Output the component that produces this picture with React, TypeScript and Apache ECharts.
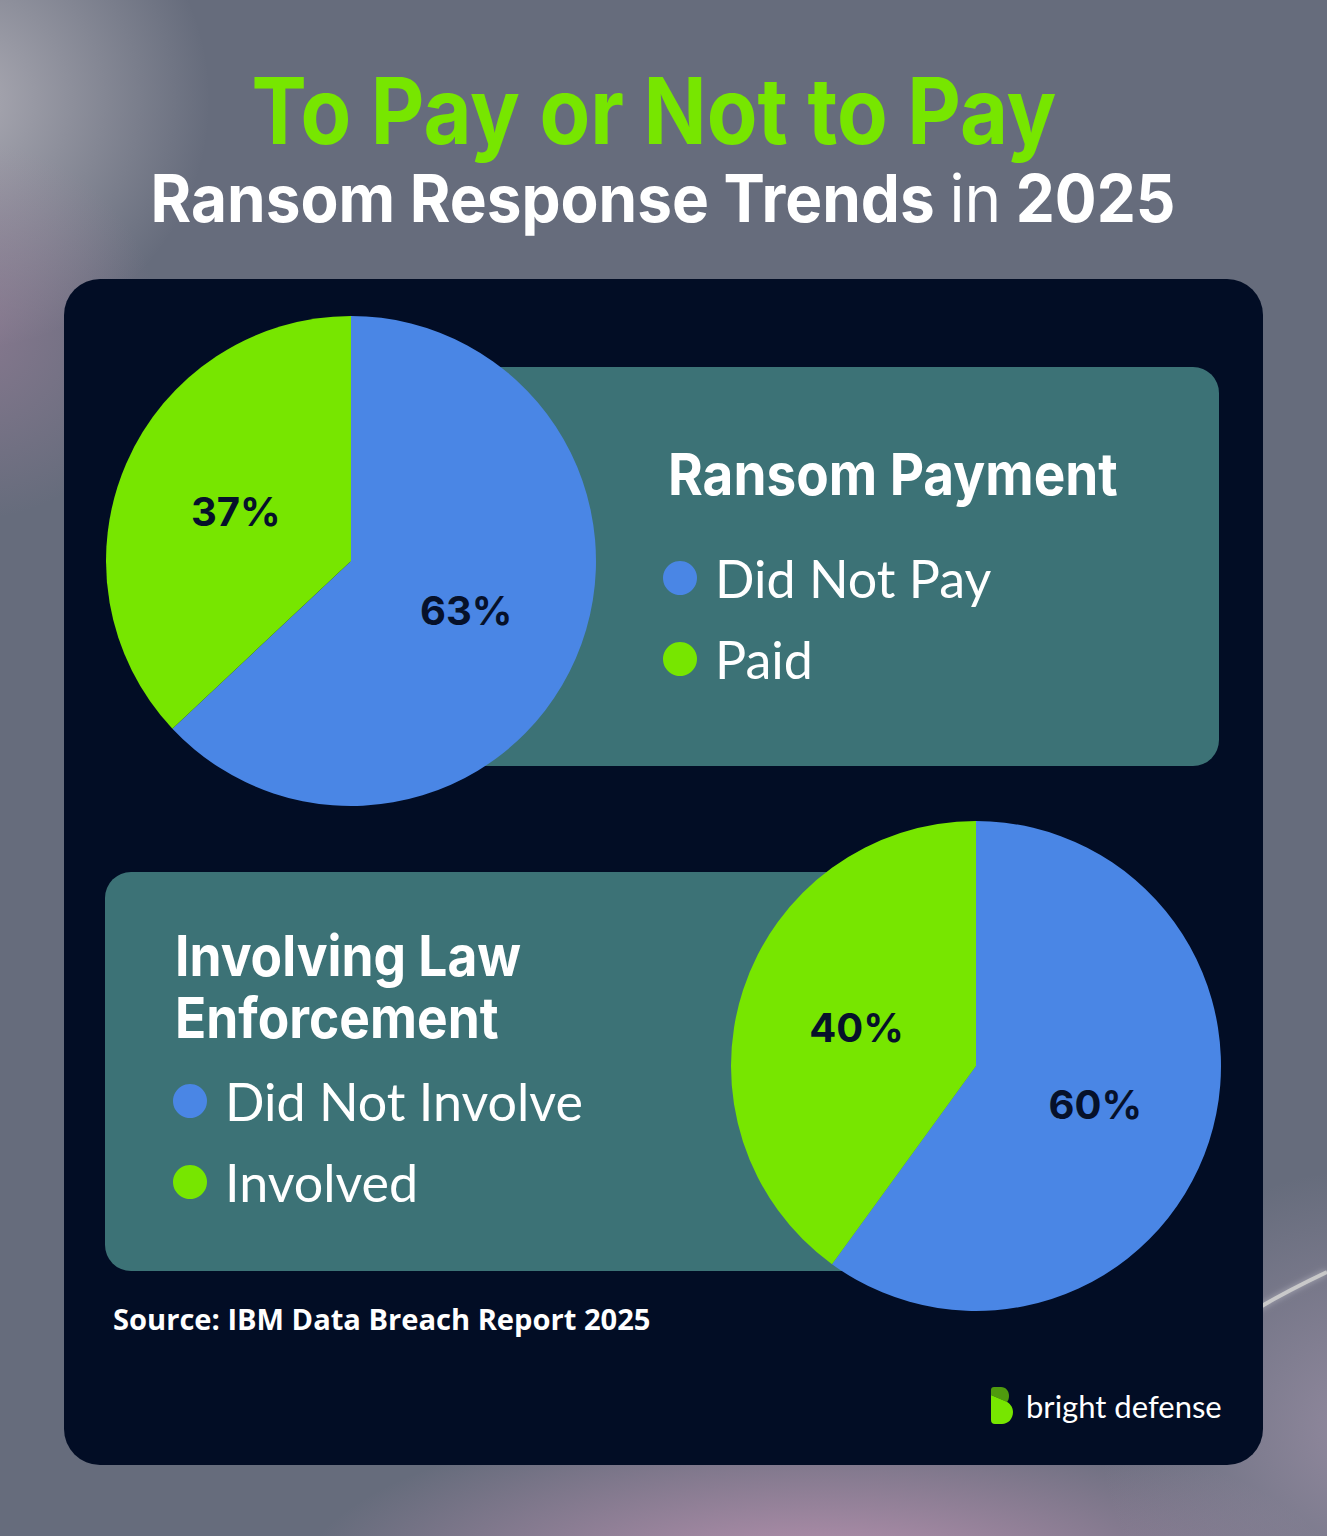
import React, { useEffect, useRef } from "react";
import * as echarts from "echarts";

const paymentCategories = ["Did Not Pay", "Paid"];
const paymentValues = [63, 37];
const lawCategories = ["Did Not Involve", "Involved"];
const lawValues = [60, 40];
const sliceColors = ["#4a86e5", "#77e600"];

const titleLine1 = "To Pay or Not to Pay";
const titleLine2Bold1 = "Ransom Response Trends";
const titleLine2Light = "in";
const titleLine2Bold2 = "2025";
const paymentHeading = "Ransom Payment";
const lawHeading = ["Involving Law", "Enforcement"];
const sourceText = "Source: IBM Data Breach Report 2025";
const brandText = "bright defense";

const BOLD = "Inter, 'Noto Sans', sans-serif";
const REG = "Lato, 'Noto Sans', sans-serif";
const SRC = "'Open Sans', 'Noto Sans', sans-serif";

echarts.graphic.registerShape(
  "logoTop",
  echarts.graphic.extendPath(
    "M0 3 Q0 0 3 0 H10 C15 0 18 4 18 9 C18 12 17 14 16 15 L0 8 Z",
    {}
  )
);
echarts.graphic.registerShape(
  "logoBottom",
  echarts.graphic.extendPath(
    "M0 8 L14 14 C19 16 22 20 22 25 C22 32 17 37 11 37 H4 Q0 37 0 33 Z",
    {}
  )
);

function radial(inner: string, outer: string) {
  return {
    type: "radial",
    x: 0.5,
    y: 0.5,
    r: 0.5,
    colorStops: [
      { offset: 0, color: inner },
      { offset: 1, color: outer },
    ],
  };
}

export default function App() {
  const ref = useRef<HTMLDivElement>(null);
  useEffect(() => {
    document.body.style.margin = "0";
    const chart = echarts.init(ref.current!, undefined, { renderer: "svg" });
    const pieLabel = {
      show: true,
      position: "inside",
      formatter: "{c}%",
      color: "#06112a",
      fontFamily: BOLD,
      fontWeight: 700,
      fontSize: 40,
    };
    const legendText = {
      color: "#ffffff",
      fontFamily: REG,
      fontSize: 52,
      lineHeight: 52,
      padding: [0, 0, 4, 13],
    };
    chart.setOption({
      animation: false,
      graphic: [
        { type: "rect", shape: { x: 0, y: 0, width: 1327, height: 1536 }, style: { fill: "#666c7c" }, silent: true },
        { type: "circle", shape: { cx: -40, cy: 100, r: 250 }, style: { fill: radial("rgba(210,205,210,0.65)", "rgba(210,205,210,0)") }, silent: true },
        { type: "circle", shape: { cx: -30, cy: 330, r: 190 }, style: { fill: radial("rgba(175,135,165,0.45)", "rgba(175,135,165,0)") }, silent: true },
        { type: "ellipse", shape: { cx: 820, cy: 1580, rx: 520, ry: 170 }, style: { fill: radial("rgba(215,160,195,0.75)", "rgba(215,160,195,0)") }, silent: true },
        { type: "circle", shape: { cx: 1360, cy: 1430, r: 260 }, style: { fill: radial("rgba(180,160,185,0.55)", "rgba(180,160,185,0)") }, silent: true },
        { type: "bezierCurve", shape: { x1: 1255, y1: 1310, x2: 1327, y2: 1272, cpx1: 1285, cpy1: 1292 }, style: { stroke: "rgba(225,225,220,0.7)", lineWidth: 4, fill: "none", shadowBlur: 6, shadowColor: "rgba(255,255,255,0.6)" }, silent: true },
        { type: "rect", shape: { x: 64, y: 279, width: 1199, height: 1186, r: 36 }, style: { fill: "#020d25" }, silent: true },
        { type: "rect", shape: { x: 350, y: 367, width: 869, height: 399, r: 26 }, style: { fill: "#3c7276" }, silent: true },
        { type: "rect", shape: { x: 105, y: 872, width: 871, height: 399, r: 26 }, style: { fill: "#3c7276" }, silent: true },
        {
          type: "text", x: 654, y: 110, scaleX: 0.9, silent: true,
          style: { text: titleLine1, fill: "#77e600", font: `700 92px ${BOLD}`, align: "center", verticalAlign: "middle" },
        },
        {
          type: "text", x: 663, y: 198, scaleX: 0.94, silent: true,
          style: {
            text: `{b|${titleLine2Bold1} }{r|${titleLine2Light}}{b| ${titleLine2Bold2}}`,
            align: "center",
            verticalAlign: "middle",
            rich: {
              b: { fontFamily: BOLD, fontWeight: 700, fontSize: 66, fill: "#ffffff" },
              r: { fontFamily: BOLD, fontWeight: 400, fontSize: 66, fill: "#ffffff" },
            },
          },
        },
        {
          type: "text", x: 668, y: 474, scaleX: 0.915, silent: true,
          style: { text: paymentHeading, fill: "#ffffff", font: `700 58px ${BOLD}`, align: "left", verticalAlign: "middle" },
        },
        {
          type: "text", x: 175, y: 956, scaleX: 0.92, silent: true,
          style: { text: lawHeading[0], fill: "#ffffff", font: `700 56px ${BOLD}`, align: "left", verticalAlign: "middle" },
        },
        {
          type: "text", x: 175, y: 1018, scaleX: 0.92, silent: true,
          style: { text: lawHeading[1], fill: "#ffffff", font: `700 56px ${BOLD}`, align: "left", verticalAlign: "middle" },
        },
        {
          type: "text", x: 113, y: 1319, scaleX: 1.04, silent: true,
          style: { text: sourceText, fill: "#ffffff", font: `700 28px ${SRC}`, align: "left", verticalAlign: "middle" },
        },
        { type: "logoTop", x: 991, y: 1387, style: { fill: "#4f9a0e" }, silent: true },
        { type: "logoBottom", x: 991, y: 1387, style: { fill: "#77e600" }, silent: true },
        {
          type: "text", x: 1026, y: 1406, silent: true,
          style: { text: brandText, fill: "#ffffff", font: `400 31px ${REG}`, align: "left", verticalAlign: "middle" },
        },
      ],
      legend: [
        {
          data: paymentCategories,
          orient: "vertical",
          left: 663,
          top: 550,
          padding: 0,
          icon: "circle",
          itemWidth: 34,
          itemHeight: 34,
          itemGap: 25,
          selectedMode: false,
          textStyle: legendText,
          z: 12,
        },
        {
          data: lawCategories,
          orient: "vertical",
          left: 173,
          top: 1073,
          padding: 0,
          icon: "circle",
          itemWidth: 34,
          itemHeight: 34,
          itemGap: 25,
          selectedMode: false,
          textStyle: legendText,
          z: 12,
        },
      ],
      series: [
        {
          type: "pie",
          z: 10,
          silent: true,
          center: [351, 561],
          radius: [0, 245],
          startAngle: 90,
          clockwise: true,
          label: pieLabel,
          labelLine: { show: false },
          data: paymentCategories.map((name, i) => ({
            name,
            value: paymentValues[i],
            itemStyle: { color: sliceColors[i] },
          })),
        },
        {
          type: "pie",
          z: 10,
          silent: true,
          center: [976, 1066],
          radius: [0, 245],
          startAngle: 90,
          clockwise: true,
          label: pieLabel,
          labelLine: { show: false },
          data: lawCategories.map((name, i) => ({
            name,
            value: lawValues[i],
            itemStyle: { color: sliceColors[i] },
          })),
        },
      ],
    });
    return () => chart.dispose();
  }, []);
  return (
    <div
      ref={ref}
      style={{ position: "absolute", left: 0, top: 0, width: 1327, height: 1536 }}
    />
  );
}
